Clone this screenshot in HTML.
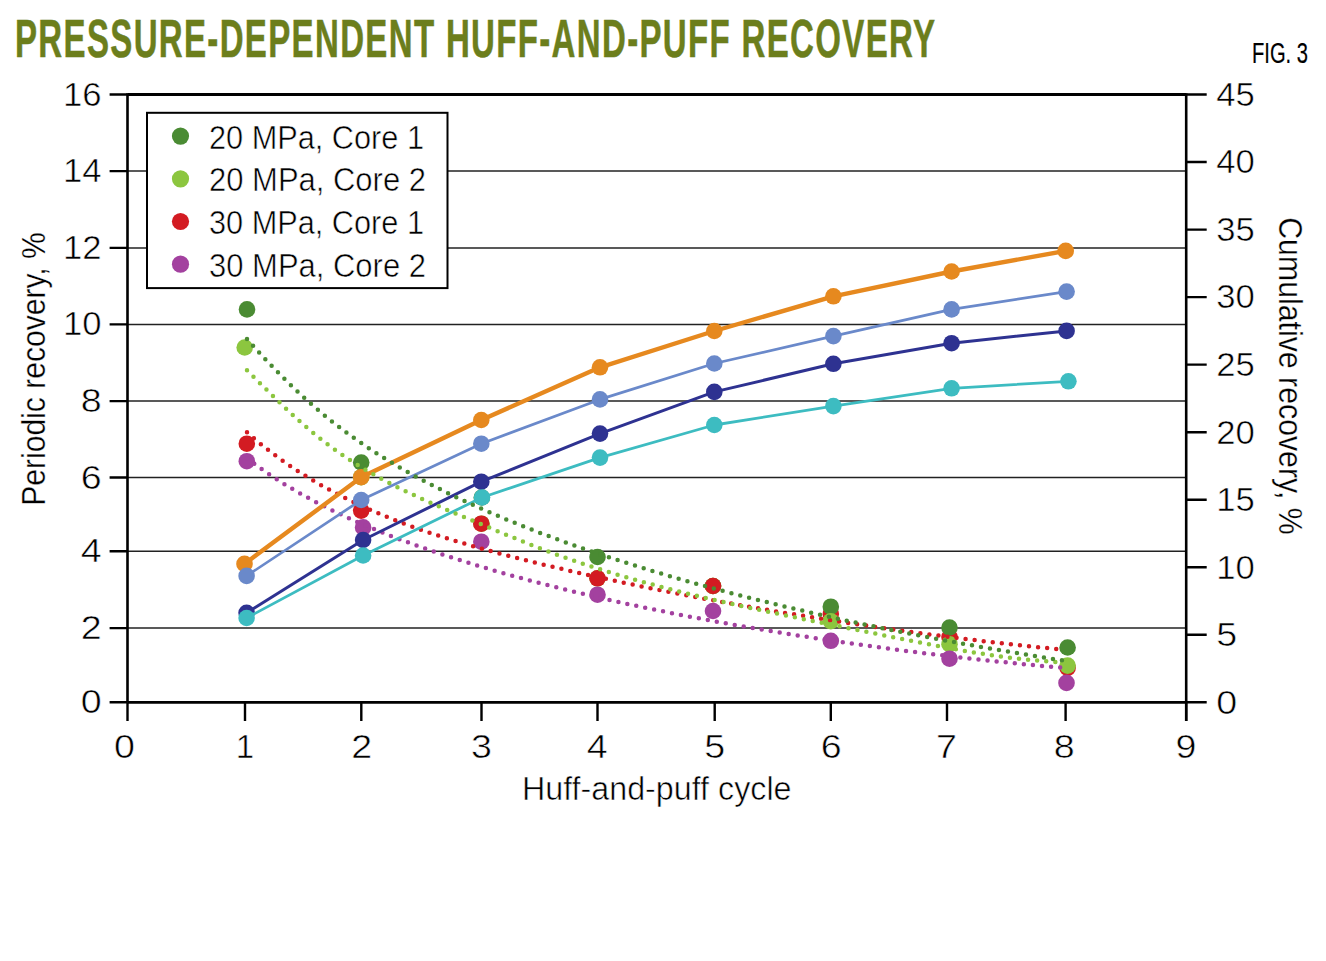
<!DOCTYPE html><html><head><meta charset="utf-8"><style>html,body{margin:0;padding:0;background:#fff;}svg{display:block;}text{font-family:"Liberation Sans",sans-serif;}.t{stroke:#fff;stroke-width:0.55px;}.t2{stroke:#fff;stroke-width:0.3px;}</style></head><body>
<svg width="1326" height="961" viewBox="0 0 1326 961">
<rect width="1326" height="961" fill="#fff"/>
<text transform="scale(0.62,1)" x="24.19" y="56.6" font-size="53.3" font-weight="bold" fill="#6c7e1c" stroke="#6c7e1c" stroke-width="0.5" textLength="1483.9" lengthAdjust="spacing">PRESSURE-DEPENDENT HUFF-AND-PUFF RECOVERY</text>
<text x="1252" y="62.7" font-size="30" fill="#000" stroke="#000" stroke-width="0.2" textLength="56" lengthAdjust="spacingAndGlyphs">FIG. 3</text>
<line x1="127.5" y1="171.1" x2="1186.2" y2="171.1" stroke="#222" stroke-width="1.5"/>
<line x1="127.5" y1="247.9" x2="1186.2" y2="247.9" stroke="#222" stroke-width="1.5"/>
<line x1="127.5" y1="324.4" x2="1186.2" y2="324.4" stroke="#222" stroke-width="1.5"/>
<line x1="127.5" y1="401.1" x2="1186.2" y2="401.1" stroke="#222" stroke-width="1.5"/>
<line x1="127.5" y1="477.5" x2="1186.2" y2="477.5" stroke="#222" stroke-width="1.5"/>
<line x1="127.5" y1="551.25" x2="1186.2" y2="551.25" stroke="#222" stroke-width="1.5"/>
<line x1="127.5" y1="628.1" x2="1186.2" y2="628.1" stroke="#222" stroke-width="1.5"/>
<path d="M127.5,94.5 H1186.2 M127.5,702.3 H1186.2" stroke="#000" stroke-width="2.8" fill="none"/>
<path d="M127.5,93.2 V702.3 M1186.2,93.2 V720.9" stroke="#000" stroke-width="2.6" fill="none"/>
<path d="M109.6,94.5H127.5M109.6,171.1H127.5M109.6,247.9H127.5M109.6,324.4H127.5M109.6,401.1H127.5M109.6,477.5H127.5M109.6,551.25H127.5M109.6,628.1H127.5M109.6,702.3H127.5" stroke="#000" stroke-width="2.4" fill="none"/>
<path d="M1186.2,94.5H1206.7M1186.2,162.0H1206.7M1186.2,229.6H1206.7M1186.2,297.1H1206.7M1186.2,364.6H1206.7M1186.2,432.2H1206.7M1186.2,499.7H1206.7M1186.2,567.2H1206.7M1186.2,634.8H1206.7M1186.2,702.3H1206.7" stroke="#000" stroke-width="2.4" fill="none"/>
<path d="M127.5,702.3V721M245.0,702.3V721M361.3,702.3V721M481.5,702.3V721M597.5,702.3V721M714.7,702.3V721M830.8,702.3V721M947.0,702.3V721M1065.6,702.3V721M1186.2,702.3V721" stroke="#000" stroke-width="2.4" fill="none"/>
<text transform="translate(101.6,105.5) scale(1.05,1)" font-size="33" text-anchor="end" class="t">16</text>
<text transform="translate(101.6,182.1) scale(1.05,1)" font-size="33" text-anchor="end" class="t">14</text>
<text transform="translate(101.6,258.9) scale(1.05,1)" font-size="33" text-anchor="end" class="t">12</text>
<text transform="translate(101.6,335.4) scale(1.05,1)" font-size="33" text-anchor="end" class="t">10</text>
<text transform="translate(101.6,412.1) scale(1.14,1)" font-size="33" text-anchor="end" class="t">8</text>
<text transform="translate(101.6,488.5) scale(1.14,1)" font-size="33" text-anchor="end" class="t">6</text>
<text transform="translate(101.6,562.2) scale(1.14,1)" font-size="33" text-anchor="end" class="t">4</text>
<text transform="translate(101.6,639.1) scale(1.14,1)" font-size="33" text-anchor="end" class="t">2</text>
<text transform="translate(101.6,713.3) scale(1.14,1)" font-size="33" text-anchor="end" class="t">0</text>
<text transform="translate(1216.2,105.8) scale(1.05,1)" font-size="33" class="t">45</text>
<text transform="translate(1216.2,173.3) scale(1.05,1)" font-size="33" class="t">40</text>
<text transform="translate(1216.2,240.9) scale(1.05,1)" font-size="33" class="t">35</text>
<text transform="translate(1216.2,308.4) scale(1.05,1)" font-size="33" class="t">30</text>
<text transform="translate(1216.2,375.9) scale(1.05,1)" font-size="33" class="t">25</text>
<text transform="translate(1216.2,443.5) scale(1.05,1)" font-size="33" class="t">20</text>
<text transform="translate(1216.2,511.0) scale(1.05,1)" font-size="33" class="t">15</text>
<text transform="translate(1216.2,578.5) scale(1.05,1)" font-size="33" class="t">10</text>
<text transform="translate(1216.2,646.1) scale(1.14,1)" font-size="33" class="t">5</text>
<text transform="translate(1216.2,713.6) scale(1.14,1)" font-size="33" class="t">0</text>
<text transform="translate(124.5,757.7) scale(1.14,1)" font-size="33" text-anchor="middle" class="t">0</text>
<text transform="translate(244.8,757.7) scale(1.0,1)" font-size="33" text-anchor="middle" class="t">1</text>
<text transform="translate(361.8,757.7) scale(1.14,1)" font-size="33" text-anchor="middle" class="t">2</text>
<text transform="translate(481.5,757.7) scale(1.14,1)" font-size="33" text-anchor="middle" class="t">3</text>
<text transform="translate(597.3,757.7) scale(1.14,1)" font-size="33" text-anchor="middle" class="t">4</text>
<text transform="translate(714.7,757.7) scale(1.14,1)" font-size="33" text-anchor="middle" class="t">5</text>
<text transform="translate(831.2,757.7) scale(1.14,1)" font-size="33" text-anchor="middle" class="t">6</text>
<text transform="translate(946.5,757.7) scale(1.14,1)" font-size="33" text-anchor="middle" class="t">7</text>
<text transform="translate(1064.2,757.7) scale(1.14,1)" font-size="33" text-anchor="middle" class="t">8</text>
<text transform="translate(1185.9,757.7) scale(1.14,1)" font-size="33" text-anchor="middle" class="t">9</text>
<text x="522" y="800.4" font-size="33" textLength="269.5" lengthAdjust="spacingAndGlyphs" class="t">Huff-and-puff cycle</text>
<text transform="translate(44.8,505.8) rotate(-90)" x="0" y="0" font-size="33.5" textLength="273.5" lengthAdjust="spacingAndGlyphs" class="t2">Periodic recovery, %</text>
<text transform="translate(1279.3,217.2) rotate(90)" x="0" y="0" font-size="33.5" textLength="317.5" lengthAdjust="spacingAndGlyphs" class="t2">Cumulative recovery, %</text>
<circle cx="247" cy="309.4" r="8.3" fill="#4a8b33"/>
<circle cx="244.7" cy="347.5" r="8.3" fill="#8cc63f"/>
<circle cx="246.8" cy="443.7" r="8.3" fill="#d31b22"/>
<circle cx="246.8" cy="461.2" r="8.3" fill="#a3419f"/>
<circle cx="361.2" cy="477.2" r="8.3" fill="#8cc63f"/>
<circle cx="361.2" cy="462.5" r="8.3" fill="#4a8b33"/>
<circle cx="361.2" cy="510.6" r="8.3" fill="#d31b22"/>
<circle cx="363.1" cy="527.4" r="8.3" fill="#a3419f"/>
<circle cx="481.8" cy="497.5" r="8.3" fill="#4a8b33"/>
<circle cx="481.5" cy="523.7" r="8.3" fill="#8cc63f"/>
<circle cx="481.3" cy="523.7" r="8.3" fill="#d31b22"/>
<circle cx="481.3" cy="541.7" r="8.3" fill="#a3419f"/>
<circle cx="597.5" cy="578.3" r="8.3" fill="#8cc63f"/>
<circle cx="597.5" cy="557.0" r="8.3" fill="#4a8b33"/>
<circle cx="597.5" cy="578.3" r="8.3" fill="#d31b22"/>
<circle cx="597.5" cy="594.7" r="8.3" fill="#a3419f"/>
<circle cx="713" cy="586" r="8.3" fill="#4a8b33"/>
<circle cx="713" cy="586" r="8.3" fill="#8cc63f"/>
<circle cx="713" cy="586" r="8.3" fill="#d31b22"/>
<circle cx="713" cy="611" r="8.3" fill="#a3419f"/>
<circle cx="830.8" cy="614" r="8.3" fill="#d31b22"/>
<circle cx="830.8" cy="606.7" r="8.3" fill="#4a8b33"/>
<circle cx="830.8" cy="621.2" r="8.3" fill="#8cc63f"/>
<circle cx="830.8" cy="640.8" r="8.3" fill="#a3419f"/>
<circle cx="949.5" cy="637" r="8.3" fill="#d31b22"/>
<circle cx="949.5" cy="627.5" r="8.3" fill="#4a8b33"/>
<circle cx="949.5" cy="644.2" r="8.3" fill="#8cc63f"/>
<circle cx="949.5" cy="658.7" r="8.3" fill="#a3419f"/>
<circle cx="1067.6" cy="667.9" r="8.3" fill="#d31b22"/>
<circle cx="1067.6" cy="647.5" r="8.3" fill="#4a8b33"/>
<circle cx="1067.6" cy="665.6" r="8.3" fill="#8cc63f"/>
<circle cx="1066.5" cy="682.9" r="8.3" fill="#a3419f"/>
<path d="M247.00,432.27h0.01M253.85,438.30h0.01M260.85,444.14h0.01M267.98,449.82h0.01M275.25,455.33h0.01M282.63,460.68h0.01M290.13,465.88h0.01M297.73,470.92h0.01M305.43,475.80h0.01M313.22,480.54h0.01M321.10,485.13h0.01M329.07,489.57h0.01M337.11,493.87h0.01M345.23,498.02h0.01M353.42,502.04h0.01M361.67,505.93h0.01M369.98,509.69h0.01M378.34,513.32h0.01M386.76,516.83h0.01M395.23,520.22h0.01M403.74,523.49h0.01M412.30,526.65h0.01M420.89,529.71h0.01M429.52,532.66h0.01M438.18,535.53h0.01M446.86,538.30h0.01M455.58,540.99h0.01M464.31,543.61h0.01M473.07,546.15h0.01M481.85,548.63h0.01M490.64,551.06h0.01M499.45,553.43h0.01M508.27,555.75h0.01M517.10,558.02h0.01M525.94,560.26h0.01M534.79,562.46h0.01M543.65,564.63h0.01M552.52,566.75h0.01M561.39,568.85h0.01M570.28,570.91h0.01M579.17,572.94h0.01M588.06,574.95h0.01M596.97,576.92h0.01M605.88,578.86h0.01M614.80,580.78h0.01M623.72,582.67h0.01M632.64,584.54h0.01M641.58,586.38h0.01M650.51,588.20h0.01M659.45,589.99h0.01M668.40,591.76h0.01M677.35,593.51h0.01M686.31,595.24h0.01M695.27,596.95h0.01M704.23,598.63h0.01M713.20,600.29h0.01M722.17,601.94h0.01M731.14,603.56h0.01M740.12,605.16h0.01M749.10,606.74h0.01M758.09,608.31h0.01M767.07,609.85h0.01M776.07,611.38h0.01M785.06,612.88h0.01M794.06,614.37h0.01M803.06,615.84h0.01M812.06,617.29h0.01M821.07,618.72h0.01M830.08,620.13h0.01M839.09,621.52h0.01M848.11,622.89h0.01M857.13,624.25h0.01M866.15,625.58h0.01M875.18,626.90h0.01M884.20,628.20h0.01M893.23,629.47h0.01M902.27,630.73h0.01M911.30,631.97h0.01M920.34,633.19h0.01M929.38,634.39h0.01M938.42,635.57h0.01M947.47,636.73h0.01M956.52,637.87h0.01M965.57,638.99h0.01M974.62,640.09h0.01M983.68,641.17h0.01M992.74,642.23h0.01M1001.80,643.26h0.01M1010.86,644.28h0.01M1019.93,645.27h0.01M1028.99,646.24h0.01M1038.06,647.19h0.01M1047.14,648.12h0.01M1056.21,649.03h0.01" fill="none" stroke="#d31b22" stroke-width="4.5" stroke-linecap="round"/>
<path d="M247.00,458.13h0.01M254.24,463.67h0.01M261.62,469.04h0.01M269.12,474.23h0.01M276.73,479.26h0.01M284.43,484.13h0.01M292.24,488.85h0.01M300.13,493.43h0.01M308.09,497.87h0.01M316.13,502.17h0.01M324.24,506.35h0.01M332.41,510.41h0.01M340.63,514.36h0.01M348.90,518.19h0.01M357.22,521.92h0.01M365.59,525.55h0.01M374.00,529.09h0.01M382.44,532.54h0.01M390.92,535.90h0.01M399.43,539.18h0.01M407.97,542.37h0.01M416.54,545.50h0.01M425.13,548.55h0.01M433.75,551.53h0.01M442.39,554.45h0.01M451.05,557.30h0.01M459.74,560.09h0.01M468.44,562.82h0.01M477.16,565.49h0.01M485.89,568.11h0.01M494.65,570.68h0.01M503.41,573.19h0.01M512.19,575.66h0.01M520.99,578.07h0.01M529.79,580.45h0.01M538.61,582.77h0.01M547.44,585.06h0.01M556.28,587.30h0.01M565.13,589.50h0.01M573.99,591.66h0.01M582.86,593.79h0.01M591.74,595.88h0.01M600.62,597.93h0.01M609.52,599.94h0.01M618.42,601.93h0.01M627.33,603.88h0.01M636.24,605.79h0.01M645.17,607.68h0.01M654.10,609.53h0.01M663.03,611.36h0.01M671.97,613.15h0.01M680.92,614.92h0.01M689.87,616.65h0.01M698.83,618.36h0.01M707.80,620.05h0.01M716.77,621.70h0.01M725.74,623.33h0.01M734.72,624.93h0.01M743.70,626.51h0.01M752.69,628.06h0.01M761.68,629.59h0.01M770.67,631.10h0.01M779.67,632.57h0.01M788.67,634.03h0.01M797.68,635.46h0.01M806.69,636.87h0.01M815.71,638.26h0.01M824.72,639.62h0.01M833.74,640.96h0.01M842.77,642.28h0.01M851.80,643.58h0.01M860.83,644.85h0.01M869.86,646.10h0.01M878.90,647.33h0.01M887.94,648.54h0.01M896.98,649.73h0.01M906.02,650.90h0.01M915.07,652.04h0.01M924.12,653.17h0.01M933.17,654.27h0.01M942.23,655.35h0.01M951.29,656.42h0.01M960.35,657.46h0.01M969.41,658.48h0.01M978.48,659.48h0.01M987.54,660.46h0.01M996.61,661.42h0.01M1005.68,662.36h0.01M1014.76,663.28h0.01M1023.83,664.17h0.01M1032.91,665.05h0.01M1041.99,665.91h0.01M1051.07,666.74h0.01M1060.16,667.56h0.01" fill="none" stroke="#a3419f" stroke-width="4.5" stroke-linecap="round"/>
<path d="M244.5,563.9 L361.2,477.2 L481.3,420 L600.0,367.3 L714.3,331.0 L833.4,296.3 L951.6,271.5 L1065.7,250.9" fill="none" stroke="#e6891f" stroke-width="4.4" stroke-linejoin="round"/>
<circle cx="244.5" cy="563.9" r="8.3" fill="#e6891f"/>
<circle cx="361.2" cy="477.2" r="8.3" fill="#e6891f"/>
<circle cx="481.3" cy="420" r="8.3" fill="#e6891f"/>
<circle cx="600.0" cy="367.3" r="8.3" fill="#e6891f"/>
<circle cx="714.3" cy="331.0" r="8.3" fill="#e6891f"/>
<circle cx="833.4" cy="296.3" r="8.3" fill="#e6891f"/>
<circle cx="951.6" cy="271.5" r="8.3" fill="#e6891f"/>
<circle cx="1065.7" cy="250.9" r="8.3" fill="#e6891f"/>
<path d="M246.6,575.9 L361.2,500 L481.3,443.7 L600.0,399.4 L714.3,363.5 L833.4,336.1 L951.6,309.4 L1066.6,291.6" fill="none" stroke="#6a89ca" stroke-width="2.7" stroke-linejoin="round"/>
<circle cx="246.6" cy="575.9" r="8.3" fill="#6a89ca"/>
<circle cx="361.2" cy="500" r="8.3" fill="#6a89ca"/>
<circle cx="481.3" cy="443.7" r="8.3" fill="#6a89ca"/>
<circle cx="600.0" cy="399.4" r="8.3" fill="#6a89ca"/>
<circle cx="714.3" cy="363.5" r="8.3" fill="#6a89ca"/>
<circle cx="833.4" cy="336.1" r="8.3" fill="#6a89ca"/>
<circle cx="951.6" cy="309.4" r="8.3" fill="#6a89ca"/>
<circle cx="1066.6" cy="291.6" r="8.3" fill="#6a89ca"/>
<path d="M246.6,612.8 L363.1,540 L481.3,481.7 L600.0,433.6 L714.3,391.9 L833.4,363.8 L951.6,343.2 L1066.6,330.9" fill="none" stroke="#2e3291" stroke-width="3.0" stroke-linejoin="round"/>
<circle cx="246.6" cy="612.8" r="8.3" fill="#2e3291"/>
<circle cx="363.1" cy="540" r="8.3" fill="#2e3291"/>
<circle cx="481.3" cy="481.7" r="8.3" fill="#2e3291"/>
<circle cx="600.0" cy="433.6" r="8.3" fill="#2e3291"/>
<circle cx="714.3" cy="391.9" r="8.3" fill="#2e3291"/>
<circle cx="833.4" cy="363.8" r="8.3" fill="#2e3291"/>
<circle cx="951.6" cy="343.2" r="8.3" fill="#2e3291"/>
<circle cx="1066.6" cy="330.9" r="8.3" fill="#2e3291"/>
<path d="M246.6,618.0 L363.1,555.5 L482,497.5 L600.0,457.6 L714.3,425.0 L833.4,406.1 L951.6,388.3 L1068.4,381.3" fill="none" stroke="#3dbcc1" stroke-width="2.8" stroke-linejoin="round"/>
<circle cx="246.6" cy="618.0" r="8.3" fill="#3dbcc1"/>
<circle cx="363.1" cy="555.5" r="8.3" fill="#3dbcc1"/>
<circle cx="482" cy="497.5" r="8.3" fill="#3dbcc1"/>
<circle cx="600.0" cy="457.6" r="8.3" fill="#3dbcc1"/>
<circle cx="714.3" cy="425.0" r="8.3" fill="#3dbcc1"/>
<circle cx="833.4" cy="406.1" r="8.3" fill="#3dbcc1"/>
<circle cx="951.6" cy="388.3" r="8.3" fill="#3dbcc1"/>
<circle cx="1068.4" cy="381.3" r="8.3" fill="#3dbcc1"/>
<path d="M247.00,370.34h0.01M253.47,376.77h0.01M259.94,383.19h0.01M266.43,389.60h0.01M272.94,395.99h0.01M279.48,402.34h0.01M286.07,408.65h0.01M292.73,414.88h0.01M299.46,421.03h0.01M306.30,427.06h0.01M313.26,432.95h0.01M320.35,438.69h0.01M327.57,444.26h0.01M334.91,449.67h0.01M342.38,454.91h0.01M349.95,459.99h0.01M357.64,464.90h0.01M365.43,469.64h0.01M373.31,474.23h0.01M381.28,478.67h0.01M389.32,482.97h0.01M397.43,487.13h0.01M405.61,491.17h0.01M413.84,495.11h0.01M422.11,498.94h0.01M430.43,502.69h0.01M438.78,506.36h0.01M447.15,509.97h0.01M455.54,513.54h0.01M463.95,517.08h0.01M472.36,520.59h0.01M480.78,524.10h0.01M489.20,527.62h0.01M497.61,531.13h0.01M506.03,534.64h0.01M514.46,538.12h0.01M522.91,541.56h0.01M531.38,544.94h0.01M539.87,548.27h0.01M548.39,551.51h0.01M556.95,554.67h0.01M565.53,557.75h0.01M574.15,560.75h0.01M582.78,563.67h0.01M591.45,566.52h0.01M600.13,569.30h0.01M608.84,572.01h0.01M617.57,574.65h0.01M626.32,577.23h0.01M635.08,579.75h0.01M643.87,582.20h0.01M652.67,584.60h0.01M661.48,586.95h0.01M670.31,589.24h0.01M679.15,591.48h0.01M688.00,593.68h0.01M696.86,595.83h0.01M705.73,597.94h0.01M714.62,600.01h0.01M723.51,602.04h0.01M732.40,604.04h0.01M741.31,606.01h0.01M750.22,607.95h0.01M759.14,609.86h0.01M768.06,611.75h0.01M776.99,613.62h0.01M785.92,615.47h0.01M794.85,617.31h0.01M803.79,619.13h0.01M812.72,620.95h0.01M821.66,622.76h0.01M830.60,624.56h0.01M839.54,626.36h0.01M848.48,628.16h0.01M857.42,629.96h0.01M866.36,631.77h0.01M875.30,633.58h0.01M884.24,635.40h0.01M893.17,637.22h0.01M902.11,639.03h0.01M911.06,640.82h0.01M920.00,642.59h0.01M928.95,644.33h0.01M937.91,646.04h0.01M946.88,647.71h0.01M955.85,649.33h0.01M964.84,650.89h0.01M973.83,652.39h0.01M982.84,653.83h0.01M991.86,655.18h0.01M1000.89,656.46h0.01M1009.93,657.64h0.01M1018.99,658.73h0.01M1028.05,659.71h0.01M1037.13,660.57h0.01M1046.22,661.32h0.01M1055.32,661.93h0.01M1064.43,662.30h0.01" fill="none" stroke="#8cc63f" stroke-width="4.5" stroke-linecap="round"/>
<path d="M247.00,338.88h0.01M253.02,345.73h0.01M259.13,352.50h0.01M265.33,359.20h0.01M271.60,365.82h0.01M277.95,372.36h0.01M284.38,378.83h0.01M290.89,385.22h0.01M297.49,391.51h0.01M304.18,397.71h0.01M310.96,403.81h0.01M317.85,409.79h0.01M324.84,415.64h0.01M331.93,421.38h0.01M339.11,426.99h0.01M346.40,432.48h0.01M353.77,437.85h0.01M361.24,443.09h0.01M368.79,448.20h0.01M376.42,453.19h0.01M384.14,458.05h0.01M391.92,462.81h0.01M399.77,467.45h0.01M407.69,471.98h0.01M415.66,476.41h0.01M423.69,480.73h0.01M431.77,484.96h0.01M439.89,489.10h0.01M448.06,493.16h0.01M456.27,497.13h0.01M464.52,501.02h0.01M472.80,504.84h0.01M481.12,508.58h0.01M489.47,512.25h0.01M497.85,515.86h0.01M506.25,519.39h0.01M514.69,522.86h0.01M523.15,526.27h0.01M531.63,529.61h0.01M540.14,532.90h0.01M548.67,536.12h0.01M557.22,539.30h0.01M565.79,542.42h0.01M574.38,545.48h0.01M582.99,548.50h0.01M591.61,551.46h0.01M600.25,554.38h0.01M608.91,557.25h0.01M617.58,560.07h0.01M626.27,562.85h0.01M634.96,565.59h0.01M643.68,568.28h0.01M652.40,570.94h0.01M661.14,573.55h0.01M669.89,576.13h0.01M678.65,578.66h0.01M687.42,581.16h0.01M696.20,583.63h0.01M704.99,586.05h0.01M713.79,588.45h0.01M722.60,590.81h0.01M731.42,593.13h0.01M740.25,595.43h0.01M749.08,597.69h0.01M757.93,599.92h0.01M766.78,602.12h0.01M775.63,604.29h0.01M784.50,606.43h0.01M793.37,608.54h0.01M802.25,610.62h0.01M811.14,612.68h0.01M820.03,614.71h0.01M828.93,616.71h0.01M837.83,618.68h0.01M846.74,620.63h0.01M855.65,622.55h0.01M864.57,624.45h0.01M873.50,626.32h0.01M882.43,628.17h0.01M891.37,629.99h0.01M900.31,631.79h0.01M909.25,633.57h0.01M918.20,635.32h0.01M927.16,637.05h0.01M936.12,638.76h0.01M945.08,640.44h0.01M954.05,642.10h0.01M963.02,643.74h0.01M971.99,645.36h0.01M980.97,646.95h0.01M989.96,648.53h0.01M998.94,650.08h0.01M1007.93,651.61h0.01M1016.93,653.12h0.01M1025.93,654.61h0.01M1034.93,656.08h0.01M1043.93,657.53h0.01M1052.94,658.96h0.01M1061.95,660.36h0.01" fill="none" stroke="#4a8b33" stroke-width="4.5" stroke-linecap="round"/>
<rect x="147" y="112.8" width="300.5" height="175.3" fill="#fff" stroke="#000" stroke-width="2"/>
<circle cx="180.5" cy="136.1" r="8.600000000000001" fill="#4a8b33"/>
<text x="209" y="148.7" font-size="33" textLength="215" lengthAdjust="spacingAndGlyphs" class="t">20 MPa, Core 1</text>
<circle cx="180.5" cy="178.8" r="8.600000000000001" fill="#8cc63f"/>
<text x="209" y="191.4" font-size="33" textLength="217" lengthAdjust="spacingAndGlyphs" class="t">20 MPa, Core 2</text>
<circle cx="180.5" cy="221.5" r="8.600000000000001" fill="#d31b22"/>
<text x="209" y="234.1" font-size="33" textLength="215" lengthAdjust="spacingAndGlyphs" class="t">30 MPa, Core 1</text>
<circle cx="180.5" cy="264.2" r="8.600000000000001" fill="#a3419f"/>
<text x="209" y="276.8" font-size="33" textLength="217" lengthAdjust="spacingAndGlyphs" class="t">30 MPa, Core 2</text>
</svg></body></html>
